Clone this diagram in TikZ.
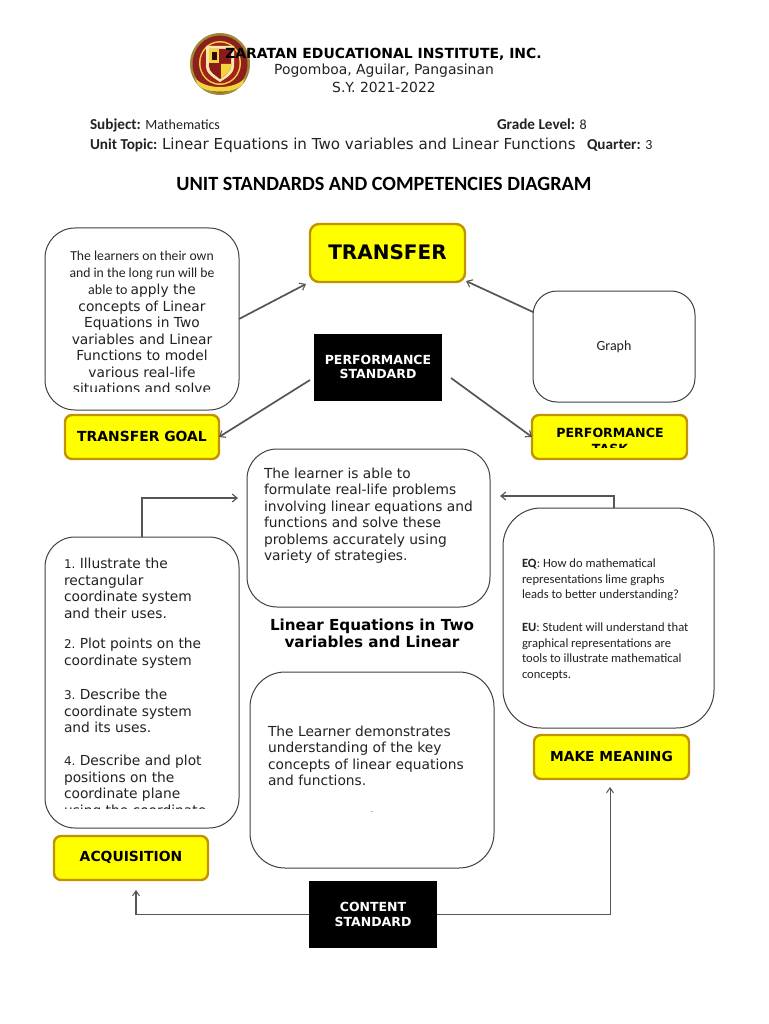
\documentclass[tikz,border=0pt]{standalone}
\usepackage{fontspec}
\setmainfont{DejaVu Sans}
\newfontfamily\carl{Carlito}
\usetikzlibrary{arrows.meta,calc,shapes.geometric}
\definecolor{gold}{HTML}{C39200}
\definecolor{pureyellow}{HTML}{FFFF00}
\definecolor{linegray}{HTML}{555555}
\definecolor{txt}{HTML}{222222}
\definecolor{logoring}{HTML}{8E1F1F}
\definecolor{logored}{HTML}{A3201F}
\definecolor{logoedge}{HTML}{9C8A3A}
\definecolor{logoyel}{HTML}{F2D53C}
\definecolor{logocream}{HTML}{F6E9A8}
\newcommand{\fs}[2]{\fontsize{#1}{#2}\selectfont}
\tikzset{
  x=1pt,y=-1pt,
  every node/.style={outer sep=0,inner sep=0},
  bubble/.style={draw=black!75,line width=1pt,fill=white,rounded corners=#1},
  bubble/.default=30pt,
  yellowbox/.style={draw=gold,line width=2.4pt,fill=pureyellow,rounded corners=7pt,font=\bfseries,text=black},
  blackbox/.style={fill=black,text=white,font=\bfseries\fs{12.5}{15},align=center},
  conn/.style={draw=linegray,line width=1.7pt,-{Straight Barb[length=5pt,width=8pt,line width=1.1pt]}},
  thinconn/.style={draw=linegray,line width=1pt,-{Straight Barb[length=5pt,width=7pt,line width=1pt]}},
  body/.style={anchor=north west,align=left,text=txt,font=\fs{13.8}{16.5}},
}
\newcommand{\boxat}[7][]{\node[#2,anchor=north west,minimum width=#5pt-#3pt,minimum height=#6pt-#4pt,#1] (#7) at (#3,#4) {};}
\begin{document}
\begin{tikzpicture}
\useasboundingbox (0,0) rectangle (768,1024);
\fill[white] (0,0) rectangle (768,1024);
% logo
\node[ellipse,fill=logoedge,minimum width=60pt,minimum height=62pt] (logo) at (220,64) {};
\node[ellipse,fill=logoring,minimum width=55pt,minimum height=57pt] (logoa) at (220,64) {};
\node[ellipse,fill=logoyel,minimum width=42pt,minimum height=44pt] (logob) at (220,63) {};
\node[ellipse,fill=logored,minimum width=39pt,minimum height=41pt] (logoc) at (220,63) {};
\fill[logocream] (206,46) -- (234,46) -- (234,66) .. controls (234,74) and (226,78) .. (220,82) .. controls (214,78) and (206,74) .. (206,66) -- cycle;
\fill[logored!85!black] (209,49) -- (231,49) -- (231,66) .. controls (231,72) and (225,75) .. (220,79) .. controls (215,75) and (209,72) .. (209,66) -- cycle;
\fill[logoyel] (209,49) rectangle (219,63);
\fill[logoyel] (221,64) -- (231,64) -- (231,66) .. controls (231,72) and (225,75) .. (221,78) -- cycle;
\fill[black!70!logored] (212,52) rectangle (217,60);
\fill[logoyel] (195,78) .. controls (205,90) and (235,90) .. (245,78) -- (242,85) .. controls (233,94) and (207,94) .. (198,85) -- cycle;
% header
\node[font=\bfseries\fs{13.95}{16},text=black] (school) at (383.5,54.5) {ZARATAN EDUCATIONAL INSTITUTE, INC.};
\node[font=\fs{13.9}{16},text=txt] (place) at (384,71) {Pogomboa, Aguilar, Pangasinan};
\node[font=\fs{13.9}{16},text=txt] (sy) at (384,87.5) {S.Y. 2021-2022};
\node[anchor=base west,font=\fs{15.2}{16},text=txt] (subject) at (90,129.5) {\carl\textbf{Subject:} \fs{14}{16}Mathematics};
\node[anchor=base west,font=\fs{15.2}{16},text=txt] (grade) at (497,129.5) {\carl\textbf{Grade Level:} \fs{14}{16}8};
\node[anchor=base west,font=\fs{15.2}{16},text=txt] (topic) at (90,149.5) {\carl\textbf{Unit Topic:}};
\node[anchor=base west,font=\fs{15.1}{16},text=txt] (topicv) at (162,149.5) {Linear Equations in Two variables and Linear Functions};
\node[anchor=base west,font=\fs{15.2}{16},text=txt] (quarter) at (587,149.5) {\carl\textbf{Quarter:} \fs{14}{16}3};
\node[font=\carl\bfseries\fs{20.2}{22},text=black] (title) at (384,184) {UNIT STANDARDS AND COMPETENCIES DIAGRAM};
% boxes
\boxat[rounded corners=9pt]{yellowbox}{310}{224}{465}{282}{transfer}
\node[text=black,font=\bfseries\fs{20}{24}] (transfert) at (387.5,252) {TRANSFER};
\boxat[bubble=30pt]{bubble}{45}{228}{239}{410}{lefttop}
\boxat[]{blackbox}{314}{334}{442}{401}{perf}
\node[white,font=\bfseries\fs{12.5}{14.5},align=center] (perft) at (378,367) {PERFORMANCE\\STANDARD};
\boxat[bubble=24pt]{bubble}{533}{291}{695}{402}{graphbox}
\node[font=\carl\fs{14}{16},text=txt] (grapht) at (614,347) {Graph};
\boxat[]{yellowbox}{65}{415}{219}{459}{tgoal}
\node[text=black,font=\bfseries\fs{13.9}{16}] (tgoalt) at (142,436) {TRANSFER GOAL};
\boxat[]{yellowbox}{532}{415}{687}{459}{ptask}
\begin{scope}
\clip (534,417) rectangle (685,447);
\node[text=black,font=\bfseries\fs{12.6}{14.5},align=center,anchor=north] (ptaskt) at (610,428.5) {PERFORMANCE\\[1.5pt]TASK};
\end{scope}
\boxat[bubble=30pt]{bubble}{247}{449}{490}{607}{centerbox}
\boxat[bubble=38pt]{bubble}{503}{508}{714}{728}{eqbox}
\boxat[bubble=30pt]{bubble}{45}{537}{239}{828}{listbox}
\boxat[bubble=35pt]{bubble}{250}{672}{494}{868}{learnbox}
\boxat[]{yellowbox}{54}{836}{208}{880}{acq}
\node[text=black,font=\bfseries\fs{13.9}{16}] (acqt) at (131,857.5) {ACQUISITION};
\boxat[]{yellowbox}{534}{735}{689}{779}{mm}
\node[text=black,font=\bfseries\fs{13.8}{16}] (mmt) at (611.5,756) {MAKE MEANING};
\boxat[]{blackbox}{309}{881}{437}{948}{content}
\node[white,font=\bfseries\fs{12.5}{15},align=center] (contentt) at (373,914.5) {CONTENT\\STANDARD};
% texts
\node[font=\carl\fs{13.7}{17.5},text=txt,align=center,anchor=north] (lt1) at (142,250.5) {The learners on their own\\and in the long run will be};
\begin{scope}
\clip (50,282) rectangle (234,391.5);
\node[font=\fs{13.8}{16.5},text=txt,align=center,anchor=north] (lt2) at (142,284.5) {{\carl\fs{14}{16.5}able to }apply the\\concepts of Linear\\Equations in Two\\variables and Linear\\Functions to model\\various real-life\\situations and solve};
\end{scope}
\node[body] (centert) at (264,468) {The learner is able to\\formulate real-life problems\\involving linear equations and\\functions and solve these\\problems accurately using\\variety of strategies.};
\node[font=\bfseries\fs{15.2}{17},text=black,align=center] (lineart) at (372,633.5) {Linear Equations in Two\\variables and Linear};
\node[body] (learnt) at (268,726) {The Learner demonstrates\\understanding of the key\\concepts of linear equations\\and functions.};
\node[font=\fs{7}{8},text=txt] (dot) at (372,812) {.};
\begin{scope}
\clip (50,550) rectangle (234,808);
\node[body] (l1) at (64,558.5) {{\fs{12}{16.5}1.}\hspace{-1.5pt} Illustrate the\\rectangular\\coordinate system\\and their uses.};
\node[body] (l2) at (64,638.5) {{\fs{12}{16.5}2.}\hspace{-1.5pt} Plot points on the\\coordinate system};
\node[body] (l3) at (64,689.5) {{\fs{12}{16.5}3.}\hspace{-1.5pt} Describe the\\coordinate system\\and its uses.};
\node[body] (l4) at (64,755.5) {{\fs{12}{16.5}4.}\hspace{-1.5pt} Describe and plot\\positions on the\\coordinate plane\\using the coordinate};
\end{scope}
\node[anchor=north west,align=left,text=txt,font=\carl\fs{12.6}{15.6}] (eqt) at (522,559) {\textbf{EQ}: How do mathematical\\representations lime graphs\\leads to better understanding?};
\node[anchor=north west,align=left,text=txt,font=\carl\fs{12.6}{15.6}] (eut) at (522,623) {\textbf{EU}: Student will understand that\\graphical representations are\\tools to illustrate mathematical\\concepts.};
% connectors
\draw[conn] (lefttop.east) -- ($(transfer.south west)+(-4,2)$);
\draw[conn] ($(graphbox.west)+(0,-34.5)$) -- ($(transfer.south east)+(1,-1)$);
\draw[conn] ($(perf.west)+(-4,12.5)$) -- (tgoal.east);
\draw[conn] ($(perf.east)+(9,10.5)$) -- (ptask.west);
\draw[conn,line width=1.3pt] (listbox.north) |- ($(centerbox.west)+(-9,-30)$);
\draw[conn,line width=1.3pt] ($(eqbox.north)+(5.5,0)$) |- ($(centerbox.east)+(10,-32)$);
\draw[thinconn,line width=1.2pt] (content.west) -| ($(acq.south)+(5,10)$);
\draw[thinconn] (content.east) -| ($(mm.south)+(-1.5,8)$);
\end{tikzpicture}
\end{document}
